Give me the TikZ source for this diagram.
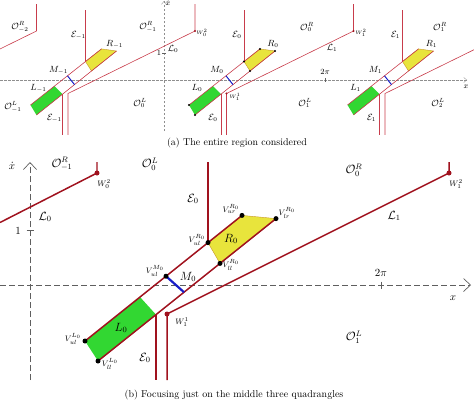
\documentclass[tikz,border=0pt]{standalone}
\usepackage{amsmath}
\usetikzlibrary{arrows.meta}
\definecolor{redA}{RGB}{200,60,75}
\definecolor{redB}{RGB}{160,18,30}
\definecolor{greenF}{RGB}{50,215,50}
\definecolor{yellowF}{RGB}{232,228,60}
\definecolor{yellowD}{RGB}{200,150,40}
\definecolor{blueM}{RGB}{25,30,200}
\definecolor{axisgray}{RGB}{95,95,95}
\begin{document}
\begin{tikzpicture}[x=1bp,y=-1bp,
  lineA/.style={draw=redA, line width=0.6pt},
  lineB/.style={draw=redB, line width=1.5pt},
  axA/.style={draw=axisgray!70, line width=0.35pt, dash pattern=on 2.5bp off 1.5bp},
  axB/.style={draw=axisgray, line width=0.7pt, dash pattern=on 6bp off 3bp},
  tipA/.style={-{Straight Barb[length=3bp,width=5bp]}},
  tipB/.style={-{Straight Barb[length=7bp,width=13bp]}},
  greenbox/.style={fill=greenF},
  yellowbox/.style={fill=yellowF, draw=yellowD, line width=0.4pt},
  mseg/.style={draw=blueM, line width=1pt},
  msegB/.style={draw=blueM, line width=2.2pt},
  lblA/.style={font=\fontsize{9}{10}\selectfont, inner sep=0pt},
  lblW/.style={font=\fontsize{5.5}{6}\selectfont, inner sep=0pt},
  lblB/.style={font=\fontsize{12}{13}\selectfont, inner sep=0pt},
  lblV/.style={font=\fontsize{8}{9}\selectfont, inner sep=0pt},
  dotA/.style={fill=black, circle, inner sep=0pt, minimum size=2.2bp},
  dotB/.style={fill=black, circle, inner sep=0pt, minimum size=5bp},
  wdotA/.style={fill=redB, circle, inner sep=0pt, minimum size=2.4bp},
  wdotB/.style={fill=redB, circle, inner sep=0pt, minimum size=5bp},
  captext/.style={font=\fontsize{10}{12}\selectfont, inner sep=0pt}
]
\useasboundingbox (0,0) rectangle (474,411);

% ================= panel (a) =================
\begin{scope}
\clip (0,0) rectangle (474,134);
\coordinate (axyb) at (164,131);
\coordinate (axyt) at (164,1);
\coordinate (axxl) at (0,80);
\coordinate (axxr) at (467,80);
\draw[axA,tipA] (axyb) -- (axyt);
\draw[axA,tipA] (axxl) -- (axxr);
\coordinate (t1a) at (162,53); \coordinate (t1b) at (166,53);
\draw[axisgray,line width=0.35pt] (t1a) -- (t1b);
\coordinate (t2a) at (325,78); \coordinate (t2b) at (325,82);
\draw[axisgray,line width=0.35pt] (t2a) -- (t2b);

\foreach \k/\n in {-1/m,0/z,1/p,2/q} {
  \begin{scope}[xshift=\k*158.5bp]
    \coordinate (wa\n) at (68,93.5);
    \coordinate (wb\n) at (195,31);
    \coordinate (wat\n) at (68,135);
    \coordinate (wbt\n) at (195,4);
    \draw[lineA] (wat\n) -- (wa\n) -- (wb\n) -- (wbt\n);
  \end{scope}
}

\foreach \k/\n in {-1/m,0/z,1/p} {
  \begin{scope}[xshift=\k*158.5bp]
    \coordinate (gul\n) at (189,105);
    \coordinate (gur\n) at (213,86);
    \coordinate (glr\n) at (221,94.2);
    \coordinate (gll\n) at (195,115);
    \coordinate (mu\n) at (226,75.8);
    \coordinate (ml\n) at (233,84.6);
    \coordinate (rul\n) at (244,61.5);
    \coordinate (rur\n) at (260,48.9);
    \coordinate (rlr\n) at (275,51);
    \coordinate (rll\n) at (250,71);
    \coordinate (eut\n) at (244,10);
    \coordinate (elt\n) at (221,135);
    \fill[greenbox] (gul\n) -- (gur\n) -- (glr\n) -- (gll\n) -- cycle;
    \draw[yellowbox] (rul\n) -- (rur\n) -- (rlr\n) -- (rll\n) -- cycle;
    \draw[lineA] (gul\n) -- (rur\n);
    \draw[lineA] (gll\n) -- (rlr\n);
    \draw[lineA] (eut\n) -- (rul\n);
    \draw[lineA] (glr\n) -- (elt\n);
    \draw[mseg] (mu\n) -- (ml\n);
    \node[lblA] (lE\n) at (237,35) {$\mathcal{E}_{\k}$};
    \node[lblA] (lEl\n) at (213,118) {$\mathcal{E}_{\k}$};
    \node[lblA] (lR\n) at (273,44) {$R_{\k}$};
    \node[lblA] (lM\n) at (217,70) {$M_{\k}$};
    \node[lblA] (lL\n) at (197,88) {$L_{\k}$};
  \end{scope}
}
\foreach \c in {gulz,gllz,rulz,rurz,rlrz,rllz} \node[dotA] at (\c) {};
\node[wdotA] (dW02) at (wbz) {};
\node[wdotA] (dW11) at (wap) {};
\node[wdotA] (dW12) at (wbp) {};
\node[lblW] (lW02) at (202,33) {$W_0^2$};
\node[lblW] (lW11) at (235,97) {$W_1^1$};
\node[lblW] (lW12) at (361,33) {$W_1^2$};

\node[lblA] (oRm2) at (20,27) {$\mathcal{O}^R_{-2}$};
\node[lblA] (oRm1) at (148,27) {$\mathcal{O}^R_{-1}$};
\node[lblA] (oR0) at (307,27) {$\mathcal{O}^R_{0}$};
\node[lblA] (oR1) at (440,27) {$\mathcal{O}^R_{1}$};
\node[lblA] (oLm1) at (13,107) {$\mathcal{O}^L_{-1}$};
\node[lblA] (oL0) at (140,103) {$\mathcal{O}^L_{0}$};
\node[lblA] (oL1) at (305,103) {$\mathcal{O}^L_{1}$};
\node[lblA] (oL2) at (438,103) {$\mathcal{O}^L_{2}$};
\node[lblA] (cL0) at (173,49) {$\mathcal{L}_0$};
\node[lblA] (cL1) at (332,48) {$\mathcal{L}_1$};
\node[lblA,font=\fontsize{8}{9}\selectfont] (onea) at (159,53) {$1$};
\node[lblA,font=\fontsize{8}{9}\selectfont] (twopia) at (325,72) {$2\pi$};
\node[lblA,font=\fontsize{8}{9}\selectfont] (xda) at (168,3) {$\dot x$};
\node[lblA,font=\fontsize{8}{9}\selectfont] (xa) at (466,87) {$x$};
\end{scope}

\node[captext] (capa) at (237,143) {(a) The entire region considered};

% ================= panel (b) =================
\coordinate (Byb) at (30,380);
\coordinate (Byt) at (30,162);
\coordinate (Bxl) at (0,285);
\coordinate (Bxr) at (471,285);
\draw[axB,tipB] (Byb) -- (Byt);
\draw[axB,tipB] (Bxl) -- (Bxr);
\coordinate (Bt1a) at (26.5,230); \coordinate (Bt1b) at (33.5,230);
\draw[axisgray,line width=0.6pt] (Bt1a) -- (Bt1b);
\coordinate (Bt2a) at (381,281.5); \coordinate (Bt2b) at (381,288.5);
\draw[axisgray,line width=0.6pt] (Bt2a) -- (Bt2b);
\node[lblB,font=\fontsize{11}{12}\selectfont] (xdB) at (12,166) {$\dot x$};
\node[lblB,font=\fontsize{11}{12}\selectfont] (xB) at (453,298) {$x$};
\node[lblB,font=\fontsize{11}{12}\selectfont] (oneB) at (18,231) {$1$};
\node[lblB,font=\fontsize{11}{12}\selectfont] (twopiB) at (381,273) {$2\pi$};

% L_0 and L_1 lines
\coordinate (L0s) at (0,222.5);
\coordinate (W02) at (97,173);
\coordinate (W02t) at (97,162);
\coordinate (W11) at (167,314);
\coordinate (W11b) at (167,380);
\coordinate (W12) at (449,173);
\coordinate (W12t) at (449,162);
\draw[lineB] (L0s) -- (W02) -- (W02t);
\draw[lineB] (W11b) -- (W11) -- (W12) -- (W12t);

% strip
\coordinate (Vlul) at (85,341);
\coordinate (Glur) at (140,297);
\coordinate (Gllr) at (156,314.6);
\coordinate (Vlll) at (98,361);
\coordinate (Vmul) at (166,276.2);
\coordinate (Mll) at (184,292.2);
\coordinate (Vrul) at (208,242.6);
\coordinate (Vrur) at (242,215.4);
\coordinate (Vrlr) at (276,218.6);
\coordinate (Vrll) at (220,263.4);
\coordinate (Eut) at (208,162);
\coordinate (Elb) at (156,380);
\fill[greenbox] (Vlul) -- (Glur) -- (Gllr) -- (Vlll) -- cycle;
\draw[yellowbox] (Vrul) -- (Vrur) -- (Vrlr) -- (Vrll) -- cycle;
\draw[lineB] (Vlul) -- (Vrur);
\draw[lineB] (Vlll) -- (Vrlr);
\draw[lineB] (Eut) -- (Vrul);
\draw[lineB] (Gllr) -- (Elb);
\draw[msegB] (Vmul) -- (Mll);
\foreach \c in {Vlul,Vlll,Vmul,Vrul,Vrur,Vrlr,Vrll} \node[dotB] at (\c) {};
\node[wdotB] (dW02B) at (W02) {};
\node[wdotB] (dW11B) at (W11) {};
\node[wdotB] (dW12B) at (W12) {};

% labels panel (b)
\node[lblB] (BoRm1) at (62,164) {$\mathcal{O}^R_{-1}$};
\node[lblB] (BoL0) at (150,164) {$\mathcal{O}^L_{0}$};
\node[lblB] (BoR0) at (354,170) {$\mathcal{O}^R_{0}$};
\node[lblB] (BoL1) at (354,337) {$\mathcal{O}^L_{1}$};
\node[lblB] (BcL0) at (45,217) {$\mathcal{L}_0$};
\node[lblB] (BcL1) at (394,216) {$\mathcal{L}_1$};
\node[lblB] (BE0u) at (193,199) {$\mathcal{E}_0$};
\node[lblB] (BE0l) at (145,358) {$\mathcal{E}_0$};
\node[lblB] (BR0) at (231,239) {$R_0$};
\node[lblB] (BM0) at (188,277) {$M_0$};
\node[lblB] (BL0) at (121,328) {$L_0$};
\node[lblV] (lVrur) at (231,209) {$V_{ur}^{R_0}$};
\node[lblV] (lVrlr) at (287,213) {$V_{lr}^{R_0}$};
\node[lblV] (lVrul) at (197,240) {$V_{ul}^{R_0}$};
\node[lblV] (lVrll) at (231,265) {$V_{ll}^{R_0}$};
\node[lblV] (lVmul) at (155,271) {$V_{ul}^{M_0}$};
\node[lblV] (lVlul) at (73,339) {$V_{ul}^{L_0}$};
\node[lblV] (lVlll) at (110,364) {$V_{ll}^{L_0}$};
\node[lblV] (lW02B) at (104,184) {$W_0^2$};
\node[lblV] (lW11B) at (182,322) {$W_1^1$};
\node[lblV] (lW12B) at (456,184) {$W_1^2$};

\node[captext] (capb) at (234,395) {(b) Focusing just on the middle three quadrangles};
\end{tikzpicture}
\end{document}
